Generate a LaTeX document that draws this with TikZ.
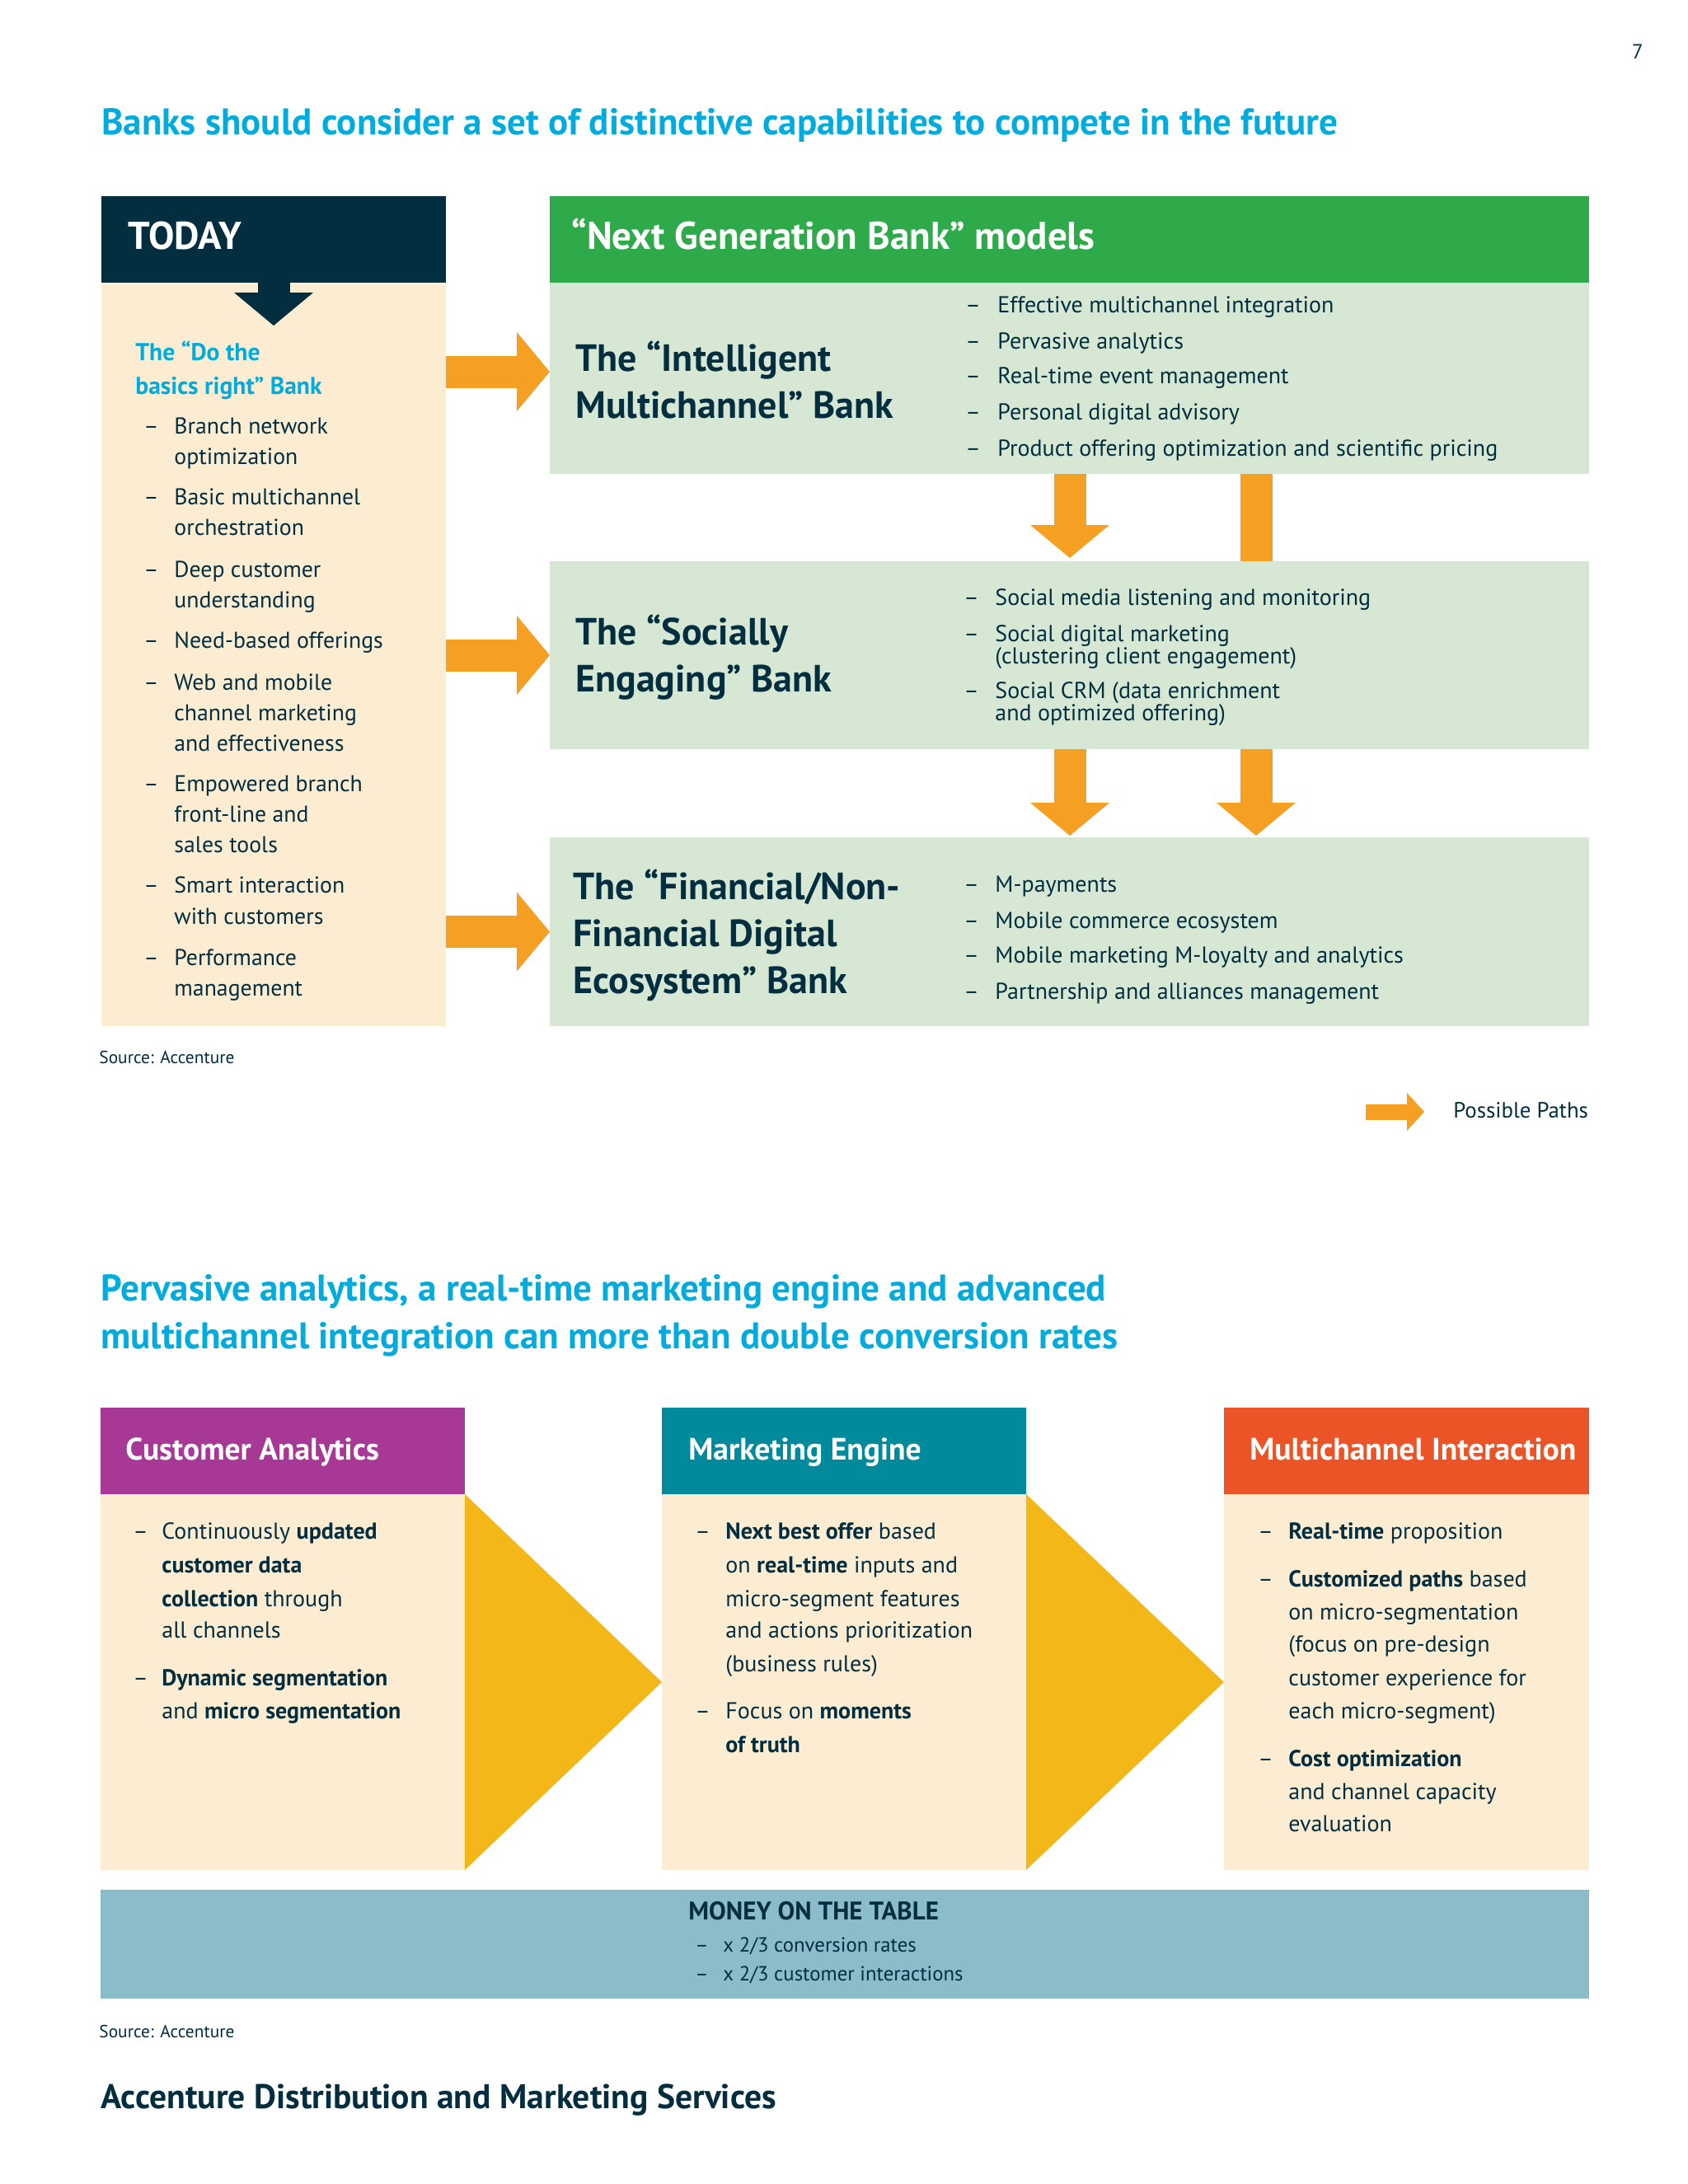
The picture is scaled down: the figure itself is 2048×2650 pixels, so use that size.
\documentclass[tikz,border=0pt]{standalone}
\usepackage{fontspec}
\setmainfont{PT Sans}
\usetikzlibrary{arrows.meta, positioning, calc}
\definecolor{navy}{RGB}{3, 46, 64}
\definecolor{titlecyan}{RGB}{0, 171, 222}
\definecolor{cream}{RGB}{252, 237, 210}
\definecolor{nextgreen}{RGB}{46, 170, 74}
\definecolor{palegreen}{RGB}{214, 232, 212}
\definecolor{pathorange}{RGB}{245, 160, 35}
\definecolor{analytics}{RGB}{168, 56, 150}
\definecolor{engine}{RGB}{0, 138, 155}
\definecolor{interaction}{RGB}{234, 84, 38}
\definecolor{chevron}{RGB}{244, 183, 24}
\definecolor{money}{RGB}{139, 188, 202}

\begin{document}
\begin{tikzpicture}[
    x=0.5pt, y=-0.5pt,
    panel/.style={
        rectangle, fill=#1, draw=none, inner sep=0pt, outer sep=0pt,
        anchor=north west
    },
    headtxt/.style={
        anchor=mid west, inner sep=0pt, text=white,
        font=\fontsize{23.5}{27}\selectfont\bfseries
    },
    colhead/.style={
        anchor=mid west, inner sep=0pt, text=white,
        font=\fontsize{18.8}{22}\selectfont\bfseries
    },
    bankname/.style={
        anchor=west, inner sep=0pt, align=left, text=navy,
        font=\fontsize{23}{28.5}\selectfont\bfseries
    },
    txtline/.style={
        anchor=mid west, inner sep=0pt, text=navy,
        font=\fontsize{14}{16}\selectfont
    },
    todayline/.style={txtline, font=\fontsize{13.9}{16}\selectfont},
    lowline/.style={txtline, font=\fontsize{14}{16}\selectfont},
    srcnote/.style={txtline, font=\fontsize{10.7}{12}\selectfont},
    bigtitle/.style={
        anchor=mid west, inner sep=0pt, text=titlecyan,
        font=\fontsize{22.5}{26}\selectfont\bfseries
    },
    fatarrow/.style={
        draw=#1, line width=19.5pt,
        -{Triangle[length=20pt, width=48pt, line width=0pt]}
    },
    fatbar/.style={draw=#1, line width=19.5pt},
    legarrow/.style={
        draw=#1, line width=9.5pt,
        -{Triangle[length=10.5pt, width=23pt, line width=0pt]}
    }
]
\useasboundingbox (0,0) rectangle (2048,2650);
\fill[white] (0,0) rectangle (2048,2650);

% Page number and first title
\node[txtline, anchor=center, font=\fontsize{12.5}{14}\selectfont] (pageno) at (1987,63) {7};
\node[bigtitle] (title1) at (123,158) {Banks should consider a set of distinctive capabilities to compete in the future};

% TODAY column
\node[panel=navy, minimum width=209pt, minimum height=52.5pt] (today) at (123,238) {};
\node[panel=cream, minimum width=209pt, minimum height=451pt] (todaybody) at (123,343) {};
\node[headtxt] (todaytxt) at (155,297) {TODAY};
\coordinate (todaytip) at (332,395);
\draw[fatarrow=navy] (today.south) -- (todaytip);

\node[todayline, text=titlecyan, font=\fontsize{14.8}{16}\selectfont\bfseries] (basics1) at (164,432) {The “Do the};
\node[todayline, text=titlecyan, font=\fontsize{14.8}{16}\selectfont\bfseries] (basics2) at (164,473) {basics right” Bank};

\foreach \yy/\txt in {521/Branch network, 558/optimization, 607/Basic multichannel,
    644/orchestration, 695/Deep customer, 732/understanding, 781/Need-based offerings,
    832/Web and mobile, 869/channel marketing, 906/and effectiveness,
    955/Empowered branch, 992/front-line and, 1029/sales tools,
    1078/Smart interaction, 1116/with customers, 1166/Performance, 1203/management}
    \node[todayline] (td-\yy) at (211,\yy) {\txt};
\foreach \yy in {521, 607, 695, 781, 832, 955, 1078, 1166}
    \node[todayline] (tdd-\yy) at (174,\yy) {–};

% Next Generation Bank models
\node[panel=nextgreen, minimum width=630.5pt, minimum height=52.5pt] (ngb) at (667,238) {};
\node[headtxt] (ngbtxt) at (693,297) {“Next Generation Bank” models};

\node[panel=palegreen, minimum width=630.5pt, minimum height=116pt] (im) at (667,343) {};
\node[panel=palegreen, minimum width=630.5pt, minimum height=114pt] (se) at (667,681) {};
\node[panel=palegreen, minimum width=630.5pt, minimum height=114.5pt] (fe) at (667,1016) {};

\node[bankname] (imname) at ([xshift=15.5pt, yshift=-1pt]im.west) {The “Intelligent\\Multichannel” Bank};
\node[bankname] (sename) at ([xshift=15.5pt, yshift=-1pt]se.west) {The “Socially\\Engaging” Bank};
\node[bankname] (fename) at ([xshift=14pt, yshift=-2pt]fe.west) {The “Financial/Non-\\Financial Digital\\Ecosystem” Bank};

\foreach \yy/\txt in {374/Effective multichannel integration, 418/Pervasive analytics,
    460/Real-time event management, 504/Personal digital advisory,
    548/Product offering optimization and scientific pricing} {
    \node[txtline] (imd-\yy) at (1171,\yy) {–};
    \node[txtline] (im-\yy) at (1210,\yy) {\txt};
}
\foreach \yy/\txt in {729/Social media listening and monitoring, 773/Social digital marketing,
    800/(clustering client engagement), 842/Social CRM (data enrichment,
    869/and optimized offering)}
    \node[txtline] (se-\yy) at (1207,\yy) {\txt};
\foreach \yy in {729, 773, 842}
    \node[txtline] (sed-\yy) at (1169,\yy) {–};
\foreach \yy/\txt in {1077/M-payments, 1121/Mobile commerce ecosystem,
    1163/Mobile marketing M-loyalty and analytics, 1207/Partnership and alliances management} {
    \node[txtline] (fed-\yy) at (1169,\yy) {–};
    \node[txtline] (fe-\yy) at (1207,\yy) {\txt};
}

% Possible paths
\draw[fatarrow=pathorange] ([yshift=4pt]todaybody.east |- im.west) -- ([yshift=4pt]im.west);
\foreach \b in {se, fe}
    \draw[fatarrow=pathorange] (todaybody.east |- \b.west) -- (\b.west);
\coordinate (colA) at (1298,0);
\coordinate (colB) at (1524,0);
\draw[fatarrow=pathorange] (im.south -| colA) -- ([yshift=2pt]se.north -| colA);
\draw[fatbar=pathorange] (im.south -| colB) -- (se.north -| colB);
\draw[fatarrow=pathorange] (se.south -| colA) -- ([yshift=1pt]fe.north -| colA);
\draw[fatarrow=pathorange] (se.south -| colB) -- ([yshift=1pt]fe.north -| colB);

\node[srcnote] (src1) at (120,1285) {Source: Accenture};
\coordinate (legS) at (1657,1349);
\node[txtline, font=\fontsize{13.4}{16}\selectfont] (legtxt) at (1763,1351) {Possible Paths};
\draw[legarrow=pathorange, shorten >=17.5pt] (legS) -- (legS -| legtxt.west);

% Second title
\node[bigtitle] (title2a) at (122,1573) {Pervasive analytics, a real-time marketing engine and advanced};
\node[bigtitle] (title2b) at (122,1631) {multichannel integration can more than double conversion rates};

% Three engine columns
\node[panel=analytics, minimum width=221pt, minimum height=52.5pt] (ca) at (122,1708) {};
\node[panel=cream, minimum width=221pt, minimum height=228pt] (cabody) at (122,1813) {};
\node[panel=engine, minimum width=221pt, minimum height=52.5pt] (me) at (803,1708) {};
\node[panel=cream, minimum width=221pt, minimum height=228pt] (mebody) at (803,1813) {};
\node[panel=interaction, minimum width=221.5pt, minimum height=52.5pt] (mi) at (1485,1708) {};
\node[panel=cream, minimum width=221.5pt, minimum height=228pt] (mibody) at (1485,1813) {};

\node[colhead] (catxt) at (152,1766) {Customer Analytics};
\node[colhead] (metxt) at (835,1766) {Marketing Engine};
\node[colhead] (mitxt) at (1516,1766) {Multichannel Interaction};

\fill[chevron] (cabody.north east) -- (mebody.west) -- (cabody.south east) -- cycle;
\fill[chevron] (mebody.north east) -- (mibody.west) -- (mebody.south east) -- cycle;

\foreach \yy/\txt in {1862/{Continuously \textbf{updated}}, 1903/\textbf{customer data},
    1944/{\textbf{collection} through}, 1982/all channels,
    2040/\textbf{Dynamic segmentation}, 2080/{and \textbf{micro segmentation}}}
    \node[lowline] (ca-\yy) at (196,\yy) {\txt};
\foreach \yy in {1862, 2040}
    \node[lowline] (cad-\yy) at (161,\yy) {–};

\foreach \yy/\txt in {1862/{\textbf{Next best offer} based}, 1903/{on \textbf{real-time} inputs and},
    1944/micro-segment features, 1982/and actions prioritization, 2023/(business rules),
    2080/{Focus on \textbf{moments}}, 2121/\textbf{of truth}}
    \node[lowline] (me-\yy) at (880,\yy) {\txt};
\foreach \yy in {1862, 2080}
    \node[lowline] (med-\yy) at (843,\yy) {–};

\foreach \yy/\txt in {1862/{\textbf{Real-time} proposition}, 1920/{\textbf{Customized paths} based},
    1960/on micro-segmentation, 1999/(focus on pre-design, 2040/customer experience for,
    2080/each micro-segment), 2138/\textbf{Cost optimization},
    2178/and channel capacity, 2217/evaluation}
    \node[lowline] (mi-\yy) at (1563,\yy) {\txt};
\foreach \yy in {1862, 1920, 2138}
    \node[lowline] (mid-\yy) at (1526,\yy) {–};

% Money on the table
\node[panel=money, minimum width=903pt, minimum height=66pt] (money) at (122,2293) {};
\node[txtline, font=\fontsize{15.5}{18}\selectfont\bfseries] (moneytxt) at (835,2324) {MONEY ON THE TABLE};
\node[txtline, font=\fontsize{12.4}{14}\selectfont] (mnd-1) at (843,2363) {–};
\node[txtline, font=\fontsize{12.4}{14}\selectfont] (mn-1) at (877,2363) {x 2/3 conversion rates};
\node[txtline, font=\fontsize{12.4}{14}\selectfont] (mnd-2) at (843,2398) {–};
\node[txtline, font=\fontsize{12.4}{14}\selectfont] (mn-2) at (877,2398) {x 2/3 customer interactions};

\node[srcnote] (src2) at (120,2467) {Source: Accenture};
\node[txtline, font=\fontsize{20.8}{24}\selectfont\bfseries] (footer) at (122,2553) {Accenture Distribution and Marketing Services};

\end{tikzpicture}
\end{document}
